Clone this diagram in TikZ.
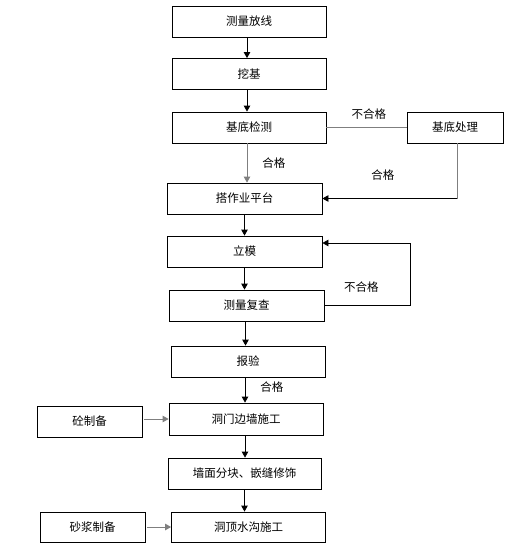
\documentclass[tikz,border=0pt]{standalone}
\usepackage{fontspec}
\setmainfont{Noto Sans CJK SC}
\usetikzlibrary{arrows.meta,positioning,calc}
\definecolor{fcline}{HTML}{000000}
\definecolor{fcgrey}{HTML}{7F7F7F}
\tikzset{
  stepbox/.style   = {draw=fcline, line width=0.8pt, align=center,
                      font=\fontsize{11.5}{13}\selectfont, inner sep=0pt,
                      minimum width=154pt, minimum height=31pt},
  sidebox/.style   = {stepbox, minimum width=105pt},
  %
  flow/.style      = {-{Triangle[length=6pt,width=6.5pt]}, draw=fcline,
                      line width=0.8pt},
  greyflow/.style  = {flow, draw=fcgrey},
  greyline/.style  = {draw=fcgrey, line width=0.9pt},
  lbl/.style       = {font=\fontsize{11.5}{13}\selectfont, inner sep=1pt},
}
\begin{document}
\begin{tikzpicture}[x=1pt,y=-1pt]
  \useasboundingbox (0,0) rectangle (519,551);

  % ---------- main column ------------------------------------------------
  \node[stepbox] (survey)   at (249.0, 21.5) {测量放线};
  \node[stepbox] (dig)      at (249.0, 74.0) {挖基};
  \node[stepbox] (check)    at (249.0,127.5) {基底检测};
  \node[stepbox, minimum width=96pt] (treat) at (455.0,127.5) {基底处理};
  \node[stepbox, minimum width=155pt] (platform) at (244.5,198.5) {搭作业平台};
  \node[stepbox, minimum width=155pt] (formwork) at (244.5,251.5) {立模};
  \node[stepbox, minimum width=155pt] (recheck)  at (246.5,305.5) {测量复查};
  \node[stepbox] (inspect)  at (248.0,361.5) {报验};
  \node[stepbox, minimum height=32pt] (wall) at (246.0,419.0) {洞门边墙施工};
  \node[stepbox, minimum width=153pt] (joint) at (244.5,473.5) {墙面分块、嵌缝修饰};
  \node[stepbox, minimum height=30pt] (gutter) at (248.5,527.0) {洞顶水沟施工};

  % ---------- side boxes -------------------------------------------------
  \node[sidebox] (concrete) at ( 89.5,421.5) {砼制备};
  \node[sidebox, minimum height=30pt] (mortar) at ( 92.5,527.0) {砂浆制备};

  % ---------- connectors -------------------------------------------------
  \draw[flow] ([xshift=-2pt]survey.south) -- ([xshift=-2pt]survey.south |- dig.north);
  \draw[flow] ([xshift=-2pt]dig.south) -- ([xshift=-2pt]dig.south |- check.north);
  \draw[greyflow] ([xshift=-2pt]check.south) -- node[lbl, right=14pt, pos=0.5] {合格}
      ([xshift=-2pt]check.south |- platform.north);

  % fail branch to treatment and back
  \draw[greyline] (check.east) -- node[lbl, above=7pt, pos=0.53] {不合格} (treat.west);
  \coordinate (treatDown) at ([xshift=2pt]treat.south |- platform.east);
  \draw[greyline] ([xshift=2pt]treat.south) -- (treatDown);
  \draw[flow] (treatDown) -- node[lbl, above=17pt, pos=0.55] {合格} (platform.east);

  \draw[flow] (platform.south) -- (platform.south |- formwork.north);
  \draw[flow] (formwork.south) -- (formwork.south |- recheck.north);

  % recheck loop
  \coordinate (loopR) at (410,305.5);
  \coordinate (loopT) at (410,243.0);
  \draw[flow] (recheck.east) -- (loopR) -- node[lbl, left=30pt, pos=0.3] {不合格} (loopT)
      -- (loopT -| formwork.east);

  \draw[flow] ([xshift=-1pt]recheck.south) -- ([xshift=-1pt]recheck.south |- inspect.north);
  \draw[flow] ([xshift=-3pt]inspect.south) -- node[lbl, right=14pt, pos=0.4] {合格}
      ([xshift=-3pt]inspect.south |- wall.north);
  \draw[flow] ([xshift=-1pt]wall.south) -- ([xshift=-1pt]wall.south |- joint.north);
  \draw[flow] (joint.south) -- (joint.south |- gutter.north);

  \draw[greyflow] ([xshift=2pt]concrete.east |- wall.west) -- (wall.west);
  \draw[greyflow] ([xshift=2pt]mortar.east) -- (gutter.west);

\end{tikzpicture}
\end{document}
